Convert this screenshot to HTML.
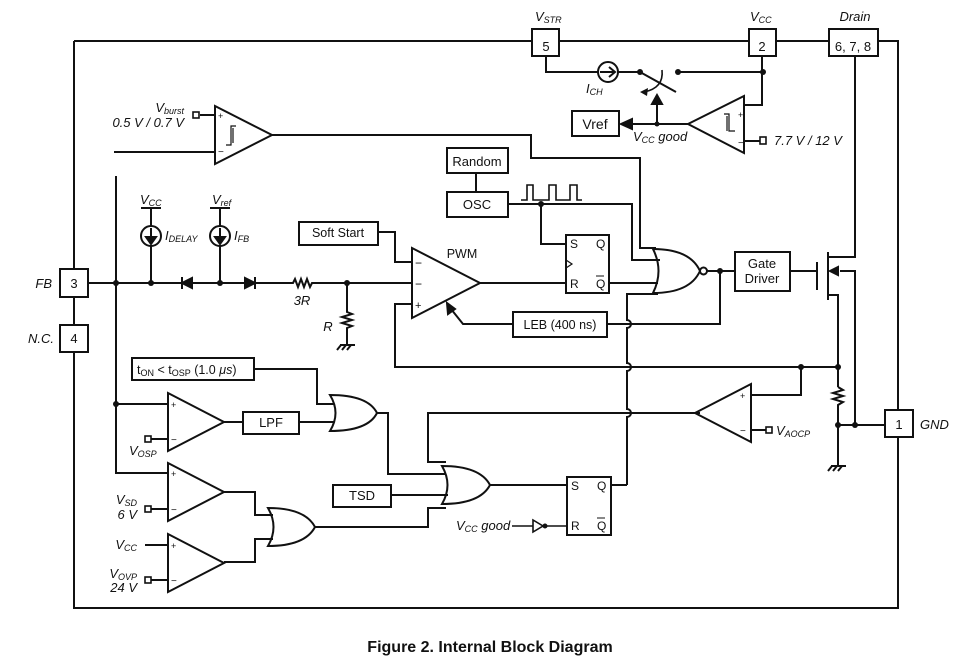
<!DOCTYPE html>
<html><head><meta charset="utf-8"><style>
html,body{margin:0;padding:0;background:#fff;}
svg{display:block;}
text{font-family:"Liberation Sans",sans-serif;fill:#111;}
.i{font-style:italic;}
</style></head><body>
<svg width="957" height="661" viewBox="0 0 957 661" xmlns="http://www.w3.org/2000/svg">
<g fill="none" stroke="#111" stroke-width="2">
<!-- outer box -->
<path d="M74 41 H532 M559 41 H749 M776 41 H829 M878 41 H898 V410 M898 437 V608 H74 V352 M74 325 V297 M74 269 V41"/>
<!-- pins -->
<rect x="532" y="29" width="27" height="27"/>
<rect x="749" y="29" width="27" height="27"/>
<rect x="829" y="29" width="49" height="27"/>
<rect x="60" y="269" width="28" height="28"/>
<rect x="60" y="325" width="28" height="27"/>
<rect x="885" y="410" width="28" height="27"/>
<!-- VSTR/ICH path -->
<path d="M546 56 V72 H598 M618 72 H640 M640 72 L676 92 M678 72 H763 M762 56 V105 H744"/>
<circle cx="608" cy="72" r="10"/>
<path d="M600 72 H614 M609 67 L615 72 L609 77" stroke-width="2"/>
<!-- curved arrow -->
<path d="M662 70 Q664 88 644 92" stroke-width="1.6"/>
<path d="M640 92 L648 88 L647 96 Z" fill="#111" stroke="none"/>
<!-- Vcc comparator -->
<path d="M744 96 V153 L688 124 Z"/>
<path d="M744 141 H760"/>
<rect x="760" y="137" width="6" height="7" stroke-width="1.6"/>
<path d="M724 114 H729 V131 H735 M727 116 V131" stroke-width="1.2"/>
<path d="M688 124 H630"/>
<path d="M621 124 L632 119 L632 129 Z" fill="#111"/>
<path d="M657 124 V103"/>
<path d="M657 95 L652 104 L662 104 Z" fill="#111"/>
<rect x="572" y="111" width="47" height="25"/>
<!-- burst comparator -->
<path d="M215 106 V164 L272 135 Z"/>
<path d="M215 115 H200 M114 152 H215"/>
<rect x="193" y="112" width="6" height="6" stroke-width="1.6"/>
<path d="M226 145 H231 V126 H236 M233 128 V143" stroke-width="1.2"/>
<path d="M272 135 H531 V158 H640 V248 H656"/>
<!-- Random / OSC -->
<rect x="447" y="148" width="61" height="25"/>
<rect x="447" y="192" width="61" height="25"/>
<path d="M476 173 V192"/>
<path d="M508 204 H632 V260 H660 M541 204 V244 H566"/>
<path d="M521 200 H527 V185 H533 V200 H549 V185 H556 V200 H570 V185 H577 V200 H582" stroke-width="1.6"/>
<!-- SR1 -->
<rect x="566" y="235" width="43" height="58"/>
<path d="M566 260 L572 264 L566 268" stroke-width="1.2"/>
<path d="M609 283 H658"/>
<!-- NOR -->
<path d="M653 249 Q690 249 700 271 Q690 293 653 293 Q664 271 653 249 Z"/>
<circle cx="703.5" cy="271" r="3.5"/>
<path d="M707 271 H735 M720 271 V324 H608"/>
<rect x="735" y="252" width="55" height="39"/>
<!-- MOSFET -->
<path d="M790 271 H817 M817 262 V290 M828 252 V300 M828 257 H855 V56 M828 295 H838 V387 M840 271 H855 V425"/>
<path d="M830 271 L838 267 L838 275 Z" fill="#111"/>
<path d="M838 387 L843 390 L833 393 L843 396 L833 399 L843 402 L838 405 V466 M831 466 H846 M832 466 L828 471 M837 466 L833 471 M842 466 L838 471"/>
<path d="M838 425 H885"/>
<!-- FB line -->
<path d="M88 283 H182 M192 283 H245 M255 283 H293 L295 279 L298 287 L301 279 L304 287 L307 279 L310 287 L312 283 H412"/>
<path d="M182 283 L192 278 L192 288 Z M182 277 V289" fill="#111"/>
<path d="M255 283 L245 278 L245 288 Z M255 277 V289" fill="#111"/>
<path d="M347 283 V312 L352 314 L342 317 L352 320 L342 323 L352 326 L347 328 V345 M340 345 H355 M341 345 L337 350 M346 345 L342 350 M351 345 L347 350"/>
<!-- current sources -->
<path d="M141 208 H161 M151 208 V226 M151 246 V283 M210 208 H230 M220 208 V226 M220 246 V283"/>
<circle cx="151" cy="236" r="10"/><circle cx="220" cy="236" r="10"/>
<path d="M151 228 V243 M220 228 V243"/>
<path d="M146 237 L156 237 L151 244 Z M215 237 L225 237 L220 244 Z" fill="#111"/>
<!-- left vertical -->
<path d="M116 176 V473 H168 M116 404 H168"/>
<!-- Soft start / PWM -->
<rect x="299" y="222" width="79" height="23"/>
<path d="M378 232 H395 V262 H412"/>
<path d="M412 248 V318 L480 283 Z"/>
<path d="M480 283 H566"/>
<path d="M412 304 H395 V367 H838"/>
<rect x="513" y="312" width="94" height="25"/>
<path d="M513 324 H463 L451 309"/>
<path d="M447 303 L448 314 L455 309 Z" fill="#111"/>
<!-- hop line -->
<path d="M700 413 H428 V462 H446 M627 485 V417 A4 4 0 0 0 627 409 V371 A4 4 0 0 0 627 363 V328 A4 4 0 0 0 627 320 V294 H658"/>
<!-- AOCP -->
<path d="M751 384 V442 L695 413 Z"/>
<path d="M751 395 H801 V367 M751 430 H766"/>
<rect x="766" y="427" width="6" height="6" stroke-width="1.6"/>
<!-- OSP -->
<path d="M168 393 V451 L224 422 Z"/>
<path d="M168 439 H151"/><rect x="145" y="436" width="6" height="6" stroke-width="1.6"/>
<rect x="243" y="412" width="56" height="22"/>
<path d="M224 422 H243 M299 422 H334"/>
<rect x="132" y="358" width="122" height="22"/>
<path d="M254 369 H317 V404 H334"/>
<path d="M330 395 Q368 395 377 413 Q368 431 330 431 Q341 413 330 395 Z"/>
<path d="M377 413 H388 V474 H446"/>
<!-- SD, OVP -->
<path d="M168 463 V521 L224 492 Z"/>
<path d="M168 509 H151"/><rect x="145" y="506" width="6" height="6" stroke-width="1.6"/>
<path d="M168 534 V592 L224 563 Z"/>
<path d="M168 580 H151"/><rect x="145" y="577" width="6" height="6" stroke-width="1.6"/>
<path d="M145 545 H168"/>
<path d="M224 492 H255 V515 H273 M224 562 H255 V539 H273"/>
<path d="M268 508 Q305 508 315 527 Q305 546 268 546 Q279 527 268 508 Z"/>
<path d="M315 527 H428 V508 H446"/>
<!-- TSD -->
<rect x="333" y="485" width="58" height="22"/>
<path d="M391 495 H448"/>
<path d="M442 466 Q480 466 490 485 Q480 504 442 504 Q453 485 442 466 Z"/>
<path d="M490 485 H567"/>
<!-- SR2 -->
<rect x="567" y="477" width="44" height="58"/>
<path d="M611 485 H627"/>
<path d="M512 526 H533 M545 526 H567" stroke-width="1.6"/>
<path d="M533 520 V532 L543 526 Z" stroke-width="1.6"/>
<circle cx="545" cy="526" r="2" fill="#111" stroke-width="1"/>
</g>
<!-- dots -->
<g fill="#111">
<circle cx="640" cy="72" r="3"/><circle cx="678" cy="72" r="3"/><circle cx="763" cy="72" r="3"/>
<circle cx="657" cy="124" r="2.5"/><circle cx="541" cy="204" r="3"/><circle cx="720" cy="271" r="3"/>
<circle cx="116" cy="283" r="3"/><circle cx="151" cy="283" r="3"/><circle cx="220" cy="283" r="3"/><circle cx="347" cy="283" r="3"/>
<circle cx="116" cy="404" r="3"/><circle cx="801" cy="367" r="3"/><circle cx="838" cy="367" r="3"/>
<circle cx="838" cy="425" r="3"/><circle cx="855" cy="425" r="3"/>
</g>
<!-- text -->
<g font-size="13">
<text x="546" y="51" text-anchor="middle">5</text>
<text x="762" y="51" text-anchor="middle">2</text>
<text x="853" y="51" text-anchor="middle">6, 7, 8</text>
<text x="74" y="288" text-anchor="middle">3</text>
<text x="74" y="343" text-anchor="middle">4</text>
<text x="899" y="429" text-anchor="middle">1</text>
<text x="535" y="21" class="i">V<tspan font-size="9" dy="2">STR</tspan></text>
<text x="750" y="21" class="i">V<tspan font-size="9" dy="2">CC</tspan></text>
<text x="855" y="21" class="i" text-anchor="middle">Drain</text>
<text x="52" y="288" class="i" text-anchor="end">FB</text>
<text x="54" y="343" class="i" text-anchor="end">N.C.</text>
<text x="920" y="429" class="i">GND</text>
<text x="586" y="93" class="i">I<tspan font-size="9" dy="2">CH</tspan></text>
<text x="595" y="129" text-anchor="middle" font-size="14">Vref</text>
<text x="633" y="141" class="i">V<tspan font-size="9" dy="2">CC</tspan><tspan dy="-2"> good</tspan></text>
<text x="774" y="145" class="i">7.7 V / 12 V</text>
<text x="184" y="112" class="i" text-anchor="end">V<tspan font-size="9" dy="2">burst</tspan></text>
<text x="184" y="127" class="i" text-anchor="end">0.5 V / 0.7 V</text>
<text x="477" y="166" text-anchor="middle">Random</text>
<text x="477" y="209" text-anchor="middle">OSC</text>
<text x="140" y="204" class="i">V<tspan font-size="9" dy="2">CC</tspan></text>
<text x="212" y="204" class="i">V<tspan font-size="9" dy="2">ref</tspan></text>
<text x="165" y="240" class="i">I<tspan font-size="9" dy="2">DELAY</tspan></text>
<text x="234" y="240" class="i">I<tspan font-size="9" dy="2">FB</tspan></text>
<text x="338" y="237" text-anchor="middle" font-size="12.5">Soft Start</text>
<text x="462" y="258" text-anchor="middle" font-size="12.5">PWM</text>
<text x="570" y="248" font-size="12">S</text><text x="596" y="248" font-size="12">Q</text>
<text x="570" y="288" font-size="12">R</text><text x="596" y="288" font-size="12">Q</text>
<text x="762" y="268" text-anchor="middle">Gate</text>
<text x="762" y="283" text-anchor="middle">Driver</text>
<text x="302" y="305" class="i" text-anchor="middle">3R</text>
<text x="328" y="331" class="i" text-anchor="middle">R</text>
<text x="560" y="329" text-anchor="middle" font-size="12.5">LEB (400 ns)</text>
<text x="137" y="374" font-size="12.5">t<tspan font-size="9" dy="2">ON</tspan><tspan dy="-2"> &lt; t</tspan><tspan font-size="9" dy="2">OSP</tspan><tspan dy="-2"> (1.0 </tspan><tspan class="i">μs</tspan>)</text>
<text x="271" y="427" text-anchor="middle">LPF</text>
<text x="362" y="500" text-anchor="middle">TSD</text>
<text x="129" y="455" class="i">V<tspan font-size="9" dy="2">OSP</tspan></text>
<text x="137" y="504" class="i" text-anchor="end">V<tspan font-size="9" dy="2">SD</tspan></text>
<text x="137" y="519" class="i" text-anchor="end">6 V</text>
<text x="137" y="549" class="i" text-anchor="end">V<tspan font-size="9" dy="2">CC</tspan></text>
<text x="137" y="578" class="i" text-anchor="end">V<tspan font-size="9" dy="2">OVP</tspan></text>
<text x="137" y="592" class="i" text-anchor="end">24 V</text>
<text x="776" y="435" class="i">V<tspan font-size="9" dy="2">AOCP</tspan></text>
<text x="456" y="530" class="i">V<tspan font-size="9" dy="2">CC</tspan><tspan dy="-2"> good</tspan></text>
<text x="571" y="490" font-size="12">S</text><text x="597" y="490" font-size="12">Q</text>
<text x="571" y="530" font-size="12">R</text><text x="597" y="530" font-size="12">Q</text>
<text x="738" y="118" font-size="9">+</text><text x="738" y="146" font-size="10">−</text>
<text x="218" y="119" font-size="9">+</text><text x="218" y="155" font-size="10">−</text>
<text x="415" y="267" font-size="12">−</text><text x="415" y="288" font-size="12">−</text><text x="415" y="309" font-size="11">+</text>
<text x="171" y="408" font-size="9">+</text><text x="171" y="443" font-size="10">−</text>
<text x="171" y="477" font-size="9">+</text><text x="171" y="513" font-size="10">−</text>
<text x="171" y="549" font-size="9">+</text><text x="171" y="584" font-size="10">−</text>
<text x="740" y="399" font-size="9">+</text><text x="740" y="434" font-size="10">−</text>
</g>
<g stroke="#111" stroke-width="1"><path d="M596 276 H604 M597 518 H605"/></g>
<text x="490" y="652" text-anchor="middle" font-size="16" font-weight="bold">Figure 2. Internal Block Diagram</text>
</svg>
</body></html>
